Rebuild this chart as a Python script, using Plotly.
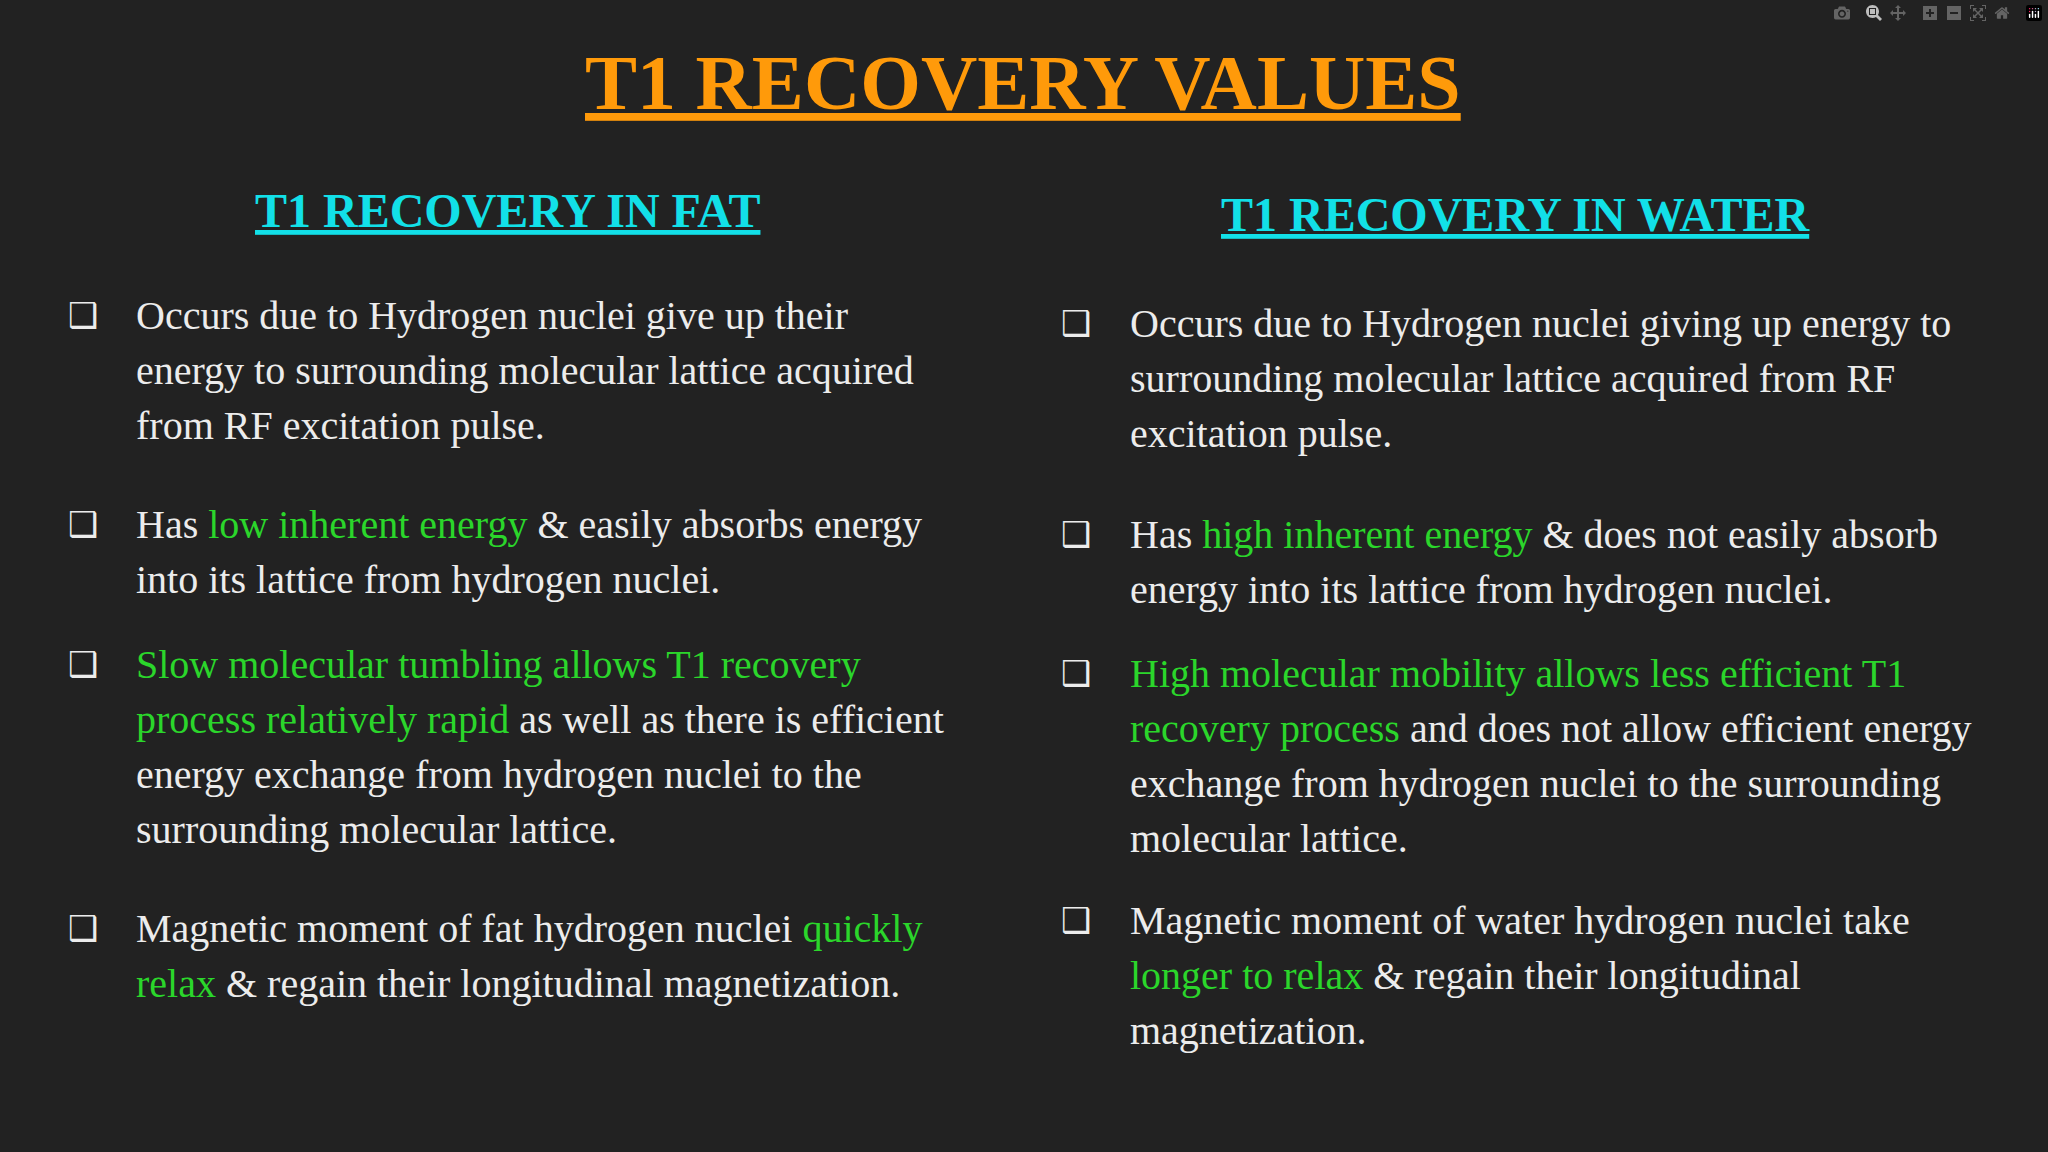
import plotly.graph_objects as go

G = "#2bd62b"

title = "T1 RECOVERY VALUES"
heading_fat = "T1 RECOVERY IN FAT"
heading_water = "T1 RECOVERY IN WATER"

# each bullet: list of lines (html spans for green parts)
fat_bullets = [
    ["Occurs due to Hydrogen nuclei give up their",
     "energy to surrounding molecular lattice acquired",
     "from RF excitation pulse."],
    ["Has <span style='color:%s'>low inherent energy</span> &amp; easily absorbs energy" % G,
     "into its lattice from hydrogen nuclei."],
    ["<span style='color:%s'>Slow molecular tumbling allows T1 recovery</span>" % G,
     "<span style='color:%s'>process relatively rapid</span> as well as there is efficient" % G,
     "energy exchange from hydrogen nuclei to the",
     "surrounding molecular lattice."],
    ["Magnetic moment of fat hydrogen nuclei <span style='color:%s'>quickly</span>" % G,
     "<span style='color:%s'>relax</span> &amp; regain their longitudinal magnetization." % G],
]
water_bullets = [
    ["Occurs due to Hydrogen nuclei giving up energy to",
     "surrounding molecular lattice acquired from RF",
     "excitation pulse."],
    ["Has <span style='color:%s'>high inherent energy</span> &amp; does not easily absorb" % G,
     "energy into its lattice from hydrogen nuclei."],
    ["<span style='color:%s'>High molecular mobility allows less efficient T1</span>" % G,
     "<span style='color:%s'>recovery process</span> and does not allow efficient energy" % G,
     "exchange from hydrogen nuclei to the surrounding",
     "molecular lattice."],
    ["Magnetic moment of water hydrogen nuclei take",
     "<span style='color:%s'>longer to relax</span> &amp; regain their longitudinal" % G,
     "magnetization."],
]
# first-line vertical positions of each bullet (pixels from top)
fat_starts = [315, 524, 664, 928]
water_starts = [323, 534, 673, 920]

FONT = "Liberation Serif"
TXT = "#ececec"
LINE = 55

fig = go.Figure()
ann = []
ann.append(dict(x=1023, y=82, text="<u><b>%s</b></u>" % title, showarrow=False,
                font=dict(family=FONT, size=78, color="#ff9a0a")))
ann.append(dict(x=507, y=210, text="<u><b>%s</b></u>" % heading_fat, showarrow=False,
                font=dict(family=FONT, size=48, color="#12e0e8")))
ann.append(dict(x=1516, y=214, text="<u><b>%s</b></u>" % heading_water, showarrow=False,
                font=dict(family=FONT, size=48, color="#12e0e8")))

for bullets, starts, bx, tx in [(fat_bullets, fat_starts, 66, 134),
                                (water_bullets, water_starts, 1059, 1128)]:
    for lines, y0 in zip(bullets, starts):
        ann.append(dict(x=bx, y=y0, text="❑", showarrow=False, xanchor="left",
                        font=dict(family="DejaVu Sans", size=34, color=TXT)))
        for i, line in enumerate(lines):
            ann.append(dict(x=tx, y=y0 + i * LINE, text=line, showarrow=False,
                            xanchor="left", yanchor="middle",
                            font=dict(family=FONT, size=40, color=TXT)))

fig.update_layout(
    width=2048, height=1152, margin=dict(l=0, r=0, t=0, b=0),
    paper_bgcolor="#222222", plot_bgcolor="#222222",
    xaxis=dict(range=[0, 2048], visible=False),
    yaxis=dict(range=[1152, 0], visible=False),
    annotations=ann, showlegend=False,
)
fig.write_html("out.html",
               post_script="document.body.style.margin='0';document.body.style.background='#222222';")
